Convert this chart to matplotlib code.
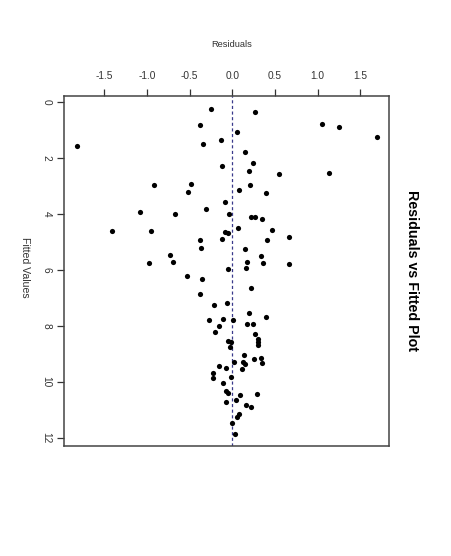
import matplotlib.pyplot as plt

plt.rcParams['font.family'] = ['Liberation Sans', 'DejaVu Sans']

residuals = [
    -0.25, 0.266, -0.376, 1.053, 1.249, 0.055, 1.70, -0.137, -1.826, -0.347, 0.149,
    -0.117, 0.247, 0.196, 0.548, 1.131, -0.919, -0.481, -0.523, 0.211, 0.079, 0.392,
    -0.09, -0.312, -1.087, -0.676, -0.035, 0.223, 0.262, 0.345, -1.415, -0.958, 0.067,
    -0.082, -0.05, 0.462, 0.662, -0.383, -0.124, 0.407, -0.364, 0.153, -0.735, 0.333,
    -0.978, -0.692, 0.173, 0.364, 0.669, -0.054, 0.161, -0.535, -0.356,
    0.219, -0.383, -0.211, -0.066, 0.196, 0.399, -0.273, -0.106, 0.008, 0.176, 0.239,
    -0.153, -0.207, 0.263, 0.302, 0.302, 0.302, -0.05, -0.015, -0.031, 0.141, 0.258,
    0.34, 0.352, 0.016, 0.129, 0.153, -0.153, -0.077, 0.117, -0.23, -0.23, -0.019,
    -0.109, -0.074, -0.054, 0.094, 0.286, -0.074, 0.043, 0.161, 0.223, 0.082, 0.052,
    0.0, 0.028,
]
fitted = [
    0.25, 0.36, 0.82, 0.79, 0.92, 1.08, 1.26, 1.36, 1.57, 1.52, 1.79,
    2.29, 2.18, 2.48, 2.59, 2.54, 2.98, 2.93, 3.22, 2.99, 3.14, 3.25,
    3.57, 3.83, 3.94, 4.03, 4.02, 4.12, 4.11, 4.19, 4.63, 4.62, 4.50,
    4.65, 4.70, 4.58, 4.83, 4.94, 4.90, 4.96, 5.24, 5.27, 5.49, 5.52,
    5.76, 5.74, 5.74, 5.75, 5.80, 5.98, 5.94, 6.24, 6.33,
    6.64, 6.88, 7.26, 7.20, 7.55, 7.70, 7.81, 7.76, 7.81, 7.93, 7.93,
    8.02, 8.24, 8.29, 8.49, 8.59, 8.69, 8.54, 8.59, 8.76, 9.06, 9.21,
    9.15, 9.32, 9.30, 9.30, 9.38, 9.46, 9.51, 9.55, 9.70, 9.86, 9.83,
    10.04, 10.32, 10.39, 10.48, 10.46, 10.74, 10.66, 10.84, 10.90, 11.16, 11.27,
    11.48, 11.86,
]
res_ticks = [-1.5, -1.0, -0.5, 0.0, 0.5, 1.0, 1.5]
fit_ticks = [0, 2, 4, 6, 8, 10, 12]

W, H = 451, 556
fig = plt.figure(figsize=(W / 100, H / 100), dpi=100)
ax = fig.add_axes([64 / W, 1 - 446 / H, (389 - 64) / W, (446 - 96) / H])

ax.scatter(residuals, fitted, s=14, color='black', linewidths=0, zorder=3)
ax.axvline(0, color='#3a3a8c', linestyle=(0, (2.5, 2)), linewidth=0.9)

ax.set_xlim(-1.975, 1.839)
ax.set_ylim(12.3, -0.2)

ax.xaxis.tick_top()
ax.set_xticks(res_ticks)
ax.set_xticklabels([f'{t:.1f}' for t in res_ticks], fontsize=7.3, color='#333333')
ax.set_yticks(fit_ticks)
ax.set_yticklabels([str(t) for t in fit_ticks], fontsize=7.3, color='#333333',
                   rotation=-90, va='center')
ax.tick_params(axis='x', length=5, width=0.9, pad=6, color='#333333')
ax.tick_params(axis='y', length=5, width=0.9, pad=4, color='#333333')
for sp in ax.spines.values():
    sp.set_linewidth(1.1)
    sp.set_color('#444444')

fig.text(232 / W, 1 - 45 / H, 'Residuals', fontsize=6.7, ha='center', va='center',
         color='#333333')
fig.text(25 / W, 1 - 267 / H, 'Fitted Values', fontsize=7.6, ha='center', va='center',
         rotation=-90, color='#333333')
fig.text(412 / W, 1 - 270 / H, 'Residuals vs Fitted Plot', fontsize=10.3,
         fontweight='bold', ha='center', va='center', rotation=-90)

fig.savefig('out.png', dpi=100)
